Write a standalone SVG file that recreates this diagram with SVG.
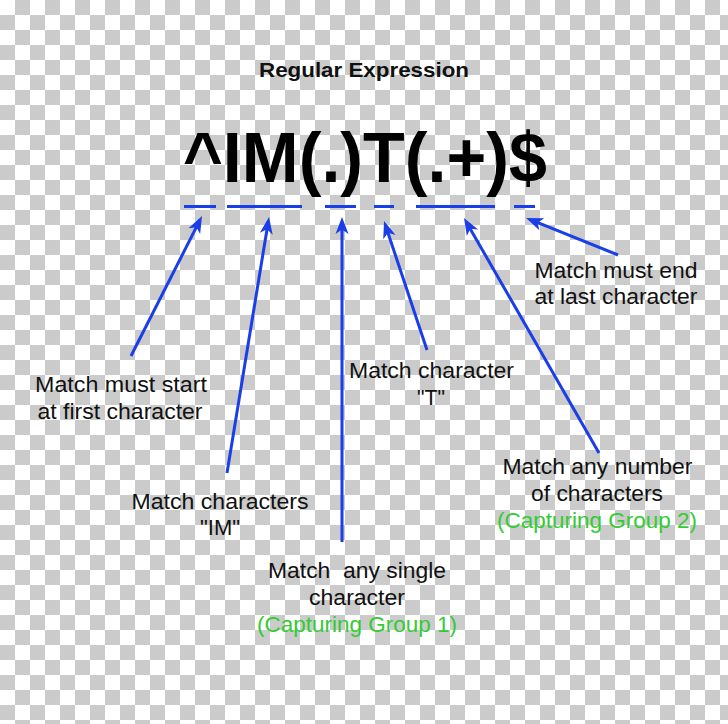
<svg xmlns="http://www.w3.org/2000/svg" width="728" height="724" viewBox="0 0 728 724">
<defs>
<pattern id="checker" x="0" y="0" width="30" height="30" patternUnits="userSpaceOnUse">
<rect width="30" height="30" fill="#ffffff"/>
<rect x="15" y="0" width="15" height="15" fill="#cbcbcb"/>
<rect x="0" y="15" width="15" height="15" fill="#cbcbcb"/>
</pattern>
<marker id="ah" markerUnits="userSpaceOnUse" orient="auto" refX="-10" refY="0" markerWidth="20" markerHeight="14" viewBox="-18 -7 20 14" overflow="visible">
<path d="M0,0 L-17,-6.5 L-12.5,0 L-17,6.5 Z" fill="#1a3ee8"/>
</marker>
</defs>
<style>
.lbl{font-family:"Liberation Sans",Arial,sans-serif;font-size:21.5px;fill:#111;text-anchor:middle}
.grn{fill:#33cc33}
.ul{stroke:#1a3ee8;stroke-width:3;fill:none}
.arr{stroke:#1a3ee8;stroke-width:3;fill:none;marker-end:url(#ah)}
</style>
<rect width="728" height="724" fill="url(#checker)"/>

<g id="title">
<text x="364" y="77" font-family="'Liberation Sans',Arial,sans-serif" font-weight="bold" font-size="20.5" text-anchor="middle" fill="#111" textLength="210" lengthAdjust="spacingAndGlyphs">Regular Expression</text>
</g>
<g id="regex">
<text x="183" y="182" font-family="'Liberation Sans',Arial,sans-serif" font-weight="bold" font-size="70" fill="#000" textLength="364" lengthAdjust="spacingAndGlyphs">^IM(.)T(.+)$</text>
</g>

<g id="underlines">
<line class="ul" x1="184" y1="206.5" x2="216" y2="206.5"/>
<line class="ul" x1="227" y1="206.5" x2="302" y2="206.5"/>
<line class="ul" x1="325" y1="206.5" x2="356" y2="206.5"/>
<line class="ul" x1="374" y1="206.5" x2="394" y2="206.5"/>
<line class="ul" x1="416" y1="206.5" x2="495" y2="206.5"/>
<line class="ul" x1="514" y1="206.5" x2="535" y2="206.5"/>
</g>

<g id="connectors">
<line class="arr" x1="131" y1="356" x2="197.5" y2="224.9"/>
<line class="arr" x1="227" y1="473" x2="267.4" y2="226.9"/>
<line class="arr" x1="342" y1="542" x2="342" y2="227"/>
<line class="arr" x1="427" y1="350" x2="387.2" y2="230.5"/>
<line class="arr" x1="599" y1="453" x2="469" y2="226.7"/>
<line class="arr" x1="618" y1="255" x2="535.3" y2="221.7"/>
</g>

<g id="label-start">
<text class="lbl" x="121" y="392" textLength="172" lengthAdjust="spacingAndGlyphs">Match must start</text>
<text class="lbl" x="120" y="418.5" textLength="165" lengthAdjust="spacingAndGlyphs">at first character</text>
</g>
<g id="label-im">
<text class="lbl" x="220" y="508.5" textLength="177" lengthAdjust="spacingAndGlyphs">Match characters</text>
<text class="lbl" x="220" y="535" textLength="40" lengthAdjust="spacingAndGlyphs">"IM"</text>
</g>
<g id="label-single">
<text class="lbl" x="357" y="577.5" textLength="178" lengthAdjust="spacingAndGlyphs">Match&#160; any single</text>
<text class="lbl" x="357" y="604.5" textLength="96" lengthAdjust="spacingAndGlyphs">character</text>
<text class="lbl grn" x="357" y="631.5" textLength="200" lengthAdjust="spacingAndGlyphs">(Capturing Group 1)</text>
</g>
<g id="label-t">
<text class="lbl" x="431.5" y="377.5" textLength="165" lengthAdjust="spacingAndGlyphs">Match character</text>
<text class="lbl" x="431" y="404.5" textLength="28" lengthAdjust="spacingAndGlyphs">"T"</text>
</g>
<g id="label-any">
<text class="lbl" x="597.5" y="473.5" textLength="190" lengthAdjust="spacingAndGlyphs">Match any number</text>
<text class="lbl" x="597" y="500.5" textLength="132" lengthAdjust="spacingAndGlyphs">of characters</text>
<text class="lbl grn" x="597" y="527.5" textLength="200" lengthAdjust="spacingAndGlyphs">(Capturing Group 2)</text>
</g>
<g id="label-end">
<text class="lbl" x="616" y="277.5" textLength="163" lengthAdjust="spacingAndGlyphs">Match must end</text>
<text class="lbl" x="616" y="304" textLength="163" lengthAdjust="spacingAndGlyphs">at last character</text>
</g>
</svg>
